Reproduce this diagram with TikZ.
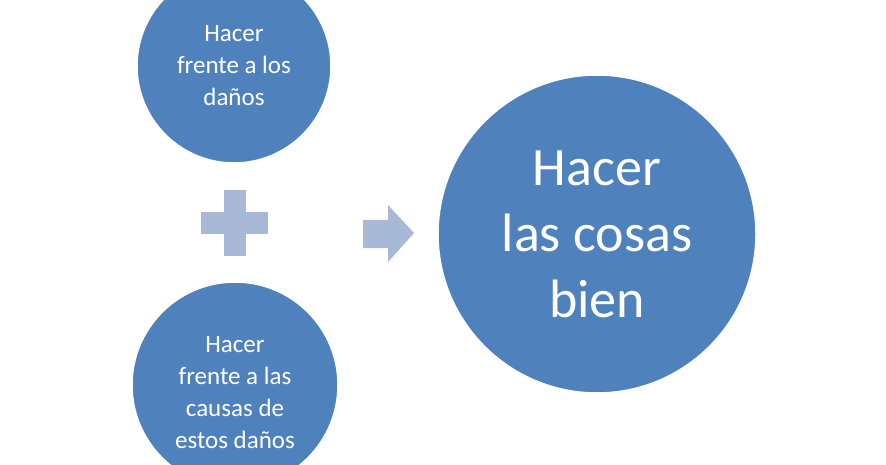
\documentclass[tikz,border=0pt]{standalone}
\usepackage{fontspec}
\setmainfont{Carlito}
\begin{document}
\begin{tikzpicture}[x=1pt,y=-1pt,
  circ/.style={circle,fill={rgb,255:red,79;green,129;blue,189},draw=white,line width=1.5pt,text=white,align=center,inner sep=0pt},
  light/.style={fill={rgb,255:red,168;green,185;blue,216}}]
\useasboundingbox (0,0) rectangle (886,465);
\begin{scope}
\clip (0,0) rectangle (886,465);
\node[circ,minimum size=194pt,font=\fontsize{25}{32}\selectfont] (a) at (234,66) {Hacer\\frente a los\\daños};
\node[circ,minimum size=206pt,font=\fontsize{25}{32}\selectfont] (b) at (235,385) {\\Hacer\\frente a las\\causas de\\estos daños};
\node[circ,minimum size=318pt,font=\fontsize{54}{66}\selectfont] (c) at (597,234) {Hacer\\las cosas\\bien};
\end{scope}
\fill[light] (224,190) rectangle (246,256);
\fill[light] (201,212) rectangle (268,234);
\coordinate (p) at (363,205);
\fill[light] (363,220) -- (388,220) -- (388,205) -- (414,233) -- (388,262) -- (388,248) -- (363,248) -- cycle;
\end{tikzpicture}
\end{document}
